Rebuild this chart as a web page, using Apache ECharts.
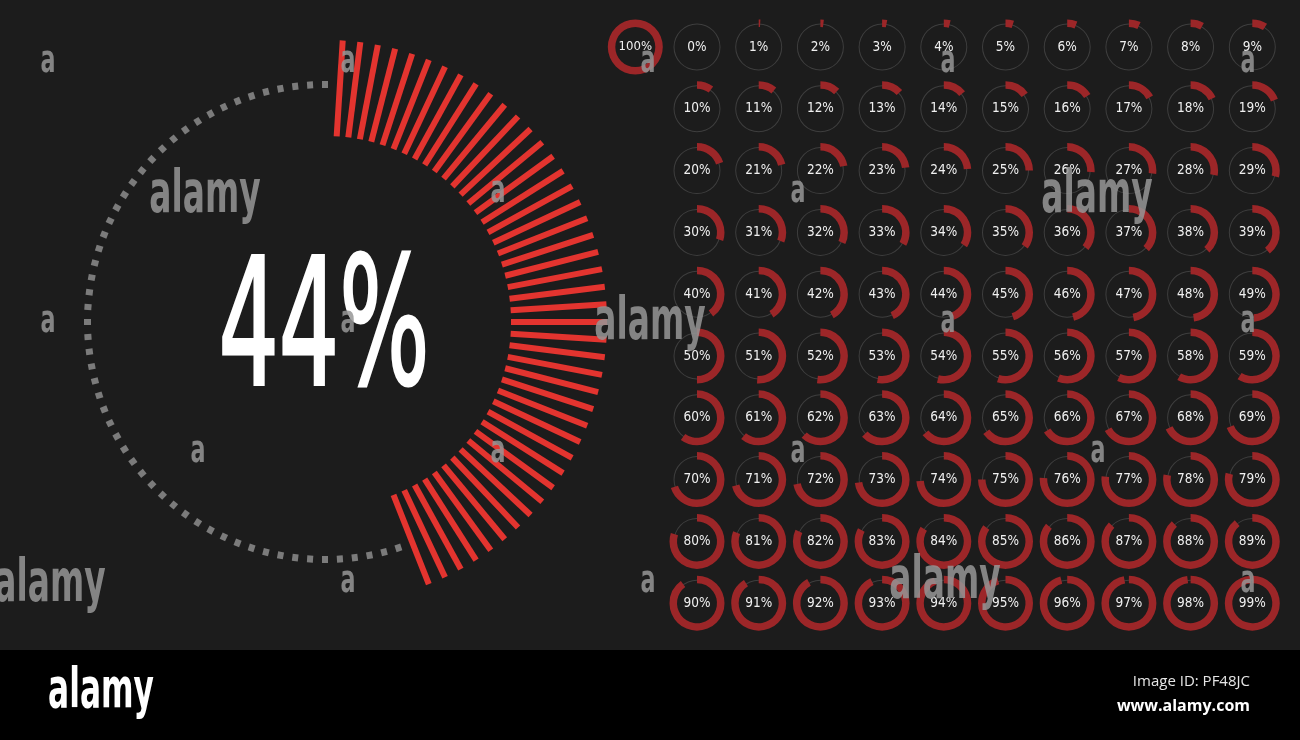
<!DOCTYPE html>
<html><head><meta charset="utf-8">
<script src="https://cdn.jsdelivr.net/npm/echarts@6/dist/echarts.min.js"></script>
<style>html,body{margin:0;padding:0;background:#1c1c1c;} #c{width:1300px;height:740px;}</style>
</head><body><div id="c"></div>
<script>
// ---- data ----
const mainValue = 44;
const mainTotal = 100;
const smallValues = [100,
  0,1,2,3,4,5,6,7,8,9,
  10,11,12,13,14,15,16,17,18,19,
  20,21,22,23,24,25,26,27,28,29,
  30,31,32,33,34,35,36,37,38,39,
  40,41,42,43,44,45,46,47,48,49,
  50,51,52,53,54,55,56,57,58,59,
  60,61,62,63,64,65,66,67,68,69,
  70,71,72,73,74,75,76,77,78,79,
  80,81,82,83,84,85,86,87,88,89,
  90,91,92,93,94,95,96,97,98,99];
const brandName = 'alamy';
const imageIdText = 'Image ID: PF48JC';
const siteText = 'www.alamy.com';

// ---- layout / style ----
const NARROW = "'DejaVu Sans Condensed','DejaVu Sans',sans-serif";
const BG = '#1c1c1c';
const RED = '#e3342f';
const SMALL_RED = '#9c2628';
const big = {cx: 325, cy: 322};
const grid = {x0: 697, y0: 47, dx: 61.7, dy: 61.8, cols: 10};

const chart = echarts.init(document.getElementById('c'), null, {renderer: 'canvas'});
const hidden = {
  axisTick: {show: false}, axisLabel: {show: false}, pointer: {show: false},
  title: {show: false}, anchor: {show: false}
};
const series = [];
const step = 360 / mainTotal;

// big gauge: red bars
series.push(Object.assign({
  type: 'gauge', center: [big.cx, big.cy], radius: 282,
  startAngle: 90 - step, endAngle: 90 - mainValue * step,
  min: 0, max: mainValue, splitNumber: mainValue - 1,
  axisLine: {show: false, lineStyle: {width: 0}},
  splitLine: {show: true, distance: 0, length: 96, lineStyle: {width: 6, color: RED, cap: 'butt'}},
  detail: {show: false}, data: [{value: mainValue}], silent: true, animation: false
}, hidden));
// big gauge: grey dots for the remainder
series.push(Object.assign({
  type: 'gauge', center: [big.cx, big.cy], radius: 241,
  startAngle: 90 - (mainValue + 1) * step, endAngle: 90 - mainTotal * step,
  min: mainValue, max: mainTotal, splitNumber: mainTotal - mainValue - 1,
  axisLine: {show: false, lineStyle: {width: 0}},
  splitLine: {show: true, distance: 0, length: 7, lineStyle: {width: 6, color: '#7b7b7b', cap: 'butt'}},
  detail: {show: false}, data: [{value: mainTotal}], silent: true, animation: false
}, hidden));

// small gauges
smallValues.forEach(function (v, k) {
  let col, row;
  if (k === 0) { col = -1; row = 0; } else { col = (k - 1) % grid.cols; row = Math.floor((k - 1) / grid.cols); }
  const c = [grid.x0 + col * grid.dx, grid.y0 + row * grid.dy];
  series.push(Object.assign({
    type: 'gauge', center: c, radius: 23.5, startAngle: 90, endAngle: -270, min: 0, max: 100,
    axisLine: {show: true, lineStyle: {width: 1, color: [[1, '#3e3e3e']]}},
    splitLine: {show: false}, detail: {show: false},
    data: [{value: v}], silent: true, animation: false
  }, hidden));
  series.push(Object.assign({
    type: 'gauge', center: c, radius: 27.5, startAngle: 90, endAngle: -270, min: 0, max: 100,
    axisLine: {show: false, lineStyle: {width: 0}},
    progress: {show: true, width: 7.5, itemStyle: {color: SMALL_RED}},
    splitLine: {show: false},
    detail: {show: true, offsetCenter: [0, 0], formatter: '{value}%', color: '#f0f0f0',
      fontSize: v === 100 ? 13 : 13.5, fontFamily: NARROW, fontWeight: 'normal'},
    data: [{value: v}], silent: true, animation: false
  }, hidden));
});

// graphics: big number, watermark, bottom bar
const graphics = [];
graphics.push({type: 'rect', shape: {x: 0, y: 650, width: 1300, height: 90}, style: {fill: '#000'}, z: 0, silent: true});
graphics.push({
  type: 'text', x: 324, y: 338, scaleX: 0.6, scaleY: 1, z: 10, silent: true,
  style: {text: mainValue + '%', fill: '#ffffff', stroke: '#ffffff', lineWidth: 3, lineJoin: 'round',
    font: "normal 176px " + NARROW, align: 'center', verticalAlign: 'middle'}
});
// watermarks
const wmFill = 'rgba(150,150,150,0.85)';
const wmWords = [[205,197],[1097,197],[650,324],[50,586],[945,583]];
const wmA = [[48,62],[348,62],[648,62],[948,62],[1248,62],[498,192],[798,192],[48,322],[348,322],[948,322],[1248,322],[198,452],[498,452],[798,452],[1098,452],[348,582],[648,582],[1248,582]];
wmWords.forEach(function (p) {
  graphics.push({type: 'text', x: p[0], y: p[1], scaleX: 0.63, z: 20, silent: true,
    style: {text: brandName, fill: wmFill, font: "bold 58px " + NARROW, align: 'center', verticalAlign: 'middle'}});
});
wmA.forEach(function (p) {
  graphics.push({type: 'text', x: p[0], y: p[1], scaleX: 0.65, z: 20, silent: true,
    style: {text: 'a', fill: wmFill, font: "bold 38px " + NARROW, align: 'center', verticalAlign: 'middle'}});
});
graphics.push({type: 'text', x: 101, y: 692, scaleX: 0.62, z: 20, silent: true,
  style: {text: brandName, fill: '#ffffff', font: "bold 56px " + NARROW, align: 'center', verticalAlign: 'middle'}});
graphics.push({type: 'text', x: 1250, y: 682, z: 20, silent: true,
  style: {text: imageIdText, fill: '#e6e6e6', font: "normal 15px 'Open Sans','DejaVu Sans',sans-serif", align: 'right', verticalAlign: 'middle'}});
graphics.push({type: 'text', x: 1250, y: 706, z: 20, silent: true,
  style: {text: siteText, fill: '#ffffff', font: "bold 16px 'Open Sans','DejaVu Sans',sans-serif", align: 'right', verticalAlign: 'middle'}});

chart.setOption({
  backgroundColor: BG,
  animation: false,
  series: series,
  graphic: {elements: graphics}
});
</script></body></html>
